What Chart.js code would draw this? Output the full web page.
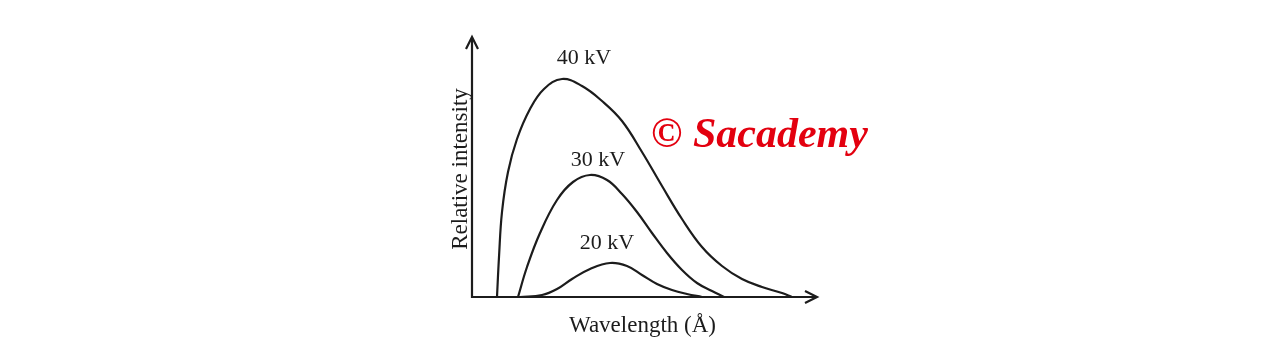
<!DOCTYPE html>
<html>
<head>
<meta charset="utf-8">
<script src="https://cdn.jsdelivr.net/npm/chart.js@4"></script>
<style>
  html, body { margin: 0; padding: 0; background: #fff; }
  #wrap { width: 1279px; height: 357px; }
</style>
</head>
<body>
<div id="wrap"><canvas id="chart"></canvas></div>
<script>
// wavelength (arbitrary units) vs relative intensity
const wl40 = [25, 27, 30, 36, 45, 58, 72, 90, 110, 130, 150, 170, 190, 210, 230, 250, 270, 290, 310, 320];
const in40 = [0, 40, 85, 125, 158, 188, 208, 218, 211, 196, 176, 145, 111, 78, 50, 31, 18, 10, 4, 0];
const wl30 = [46, 55, 68, 85, 101, 118, 135, 150, 165, 180, 195, 210, 225, 240, 252];
const in30 = [0, 30, 64, 97, 115, 122, 117, 103, 85, 64, 44, 27, 14, 6, 0];
const wl20 = [48, 70, 85, 100, 118, 138, 155, 170, 185, 200, 215, 230];
const in20 = [0, 2, 8, 18, 28, 34, 31, 22, 13, 7, 3, 0];
const seriesLabels = ["40 kV", "30 kV", "20 kV"];
const labelAt = [[112, 239], [126, 137], [135, 54]];

const toPts = (xs, ys) => xs.map((x, i) => ({ x: x, y: ys[i] }));

const ink = "#1c1c1c";
const serif = "'Liberation Serif', 'DejaVu Serif', serif";

const decor = {
  id: "decor",
  afterDraw(chart) {
    const { ctx, chartArea: a, scales: { x, y } } = chart;
    ctx.save();
    ctx.strokeStyle = ink;
    ctx.fillStyle = ink;
    ctx.lineWidth = 2.2;
    // axes
    ctx.beginPath();
    ctx.moveTo(a.left, a.top + 2);
    ctx.lineTo(a.left, a.bottom);
    ctx.lineTo(a.right - 2, a.bottom);
    ctx.stroke();
    // arrow heads
    ctx.beginPath();
    ctx.moveTo(a.left - 6, a.top + 12);
    ctx.lineTo(a.left, a.top);
    ctx.lineTo(a.left + 6, a.top + 12);
    ctx.stroke();
    ctx.beginPath();
    ctx.moveTo(a.right - 12, a.bottom - 6);
    ctx.lineTo(a.right, a.bottom);
    ctx.lineTo(a.right - 12, a.bottom + 6);
    ctx.stroke();

    // curve labels
    ctx.font = "22px " + serif;
    ctx.textAlign = "center";
    ctx.textBaseline = "middle";
    seriesLabels.forEach((t, i) => {
      ctx.fillText(t, x.getPixelForValue(labelAt[i][0]), y.getPixelForValue(labelAt[i][1]));
    });

    // axis titles
    ctx.font = "23px " + serif;
    ctx.fillText("Wavelength (\u00C5)", (a.left + a.right) / 2 - 2, a.bottom + 29);
    ctx.save();
    ctx.translate(a.left - 11, (a.top + a.bottom) / 2 + 2);
    ctx.rotate(-Math.PI / 2);
    ctx.fillText("Relative intensity", 0, 0);
    ctx.restore();

    // watermark
    ctx.fillStyle = "#e3000f";
    ctx.font = "bold italic 42px " + serif;
    ctx.textAlign = "left";
    ctx.fillText("\u00A9 Sacademy", 651, 136);
    ctx.restore();
  }
};

const mk = (lbl, xs, ys) => ({
  label: lbl,
  data: toPts(xs, ys),
  borderColor: ink,
  borderWidth: 2.2,
  pointRadius: 0,
  fill: false,
  tension: 0.4
});

new Chart(document.getElementById("chart"), {
  type: "line",
  data: {
    datasets: [
      mk(seriesLabels[0], wl40, in40),
      mk(seriesLabels[1], wl30, in30),
      mk(seriesLabels[2], wl20, in20)
    ]
  },
  options: {
    responsive: true,
    maintainAspectRatio: false,
    animation: false,
    layout: { padding: { left: 472, right: 462, top: 37, bottom: 60 } },
    plugins: { legend: { display: false }, tooltip: { enabled: false } },
    scales: {
      x: { type: "linear", min: 0, max: 345, display: false },
      y: { min: 0, max: 260, display: false }
    }
  },
  plugins: [decor]
});
</script>
</body>
</html>
